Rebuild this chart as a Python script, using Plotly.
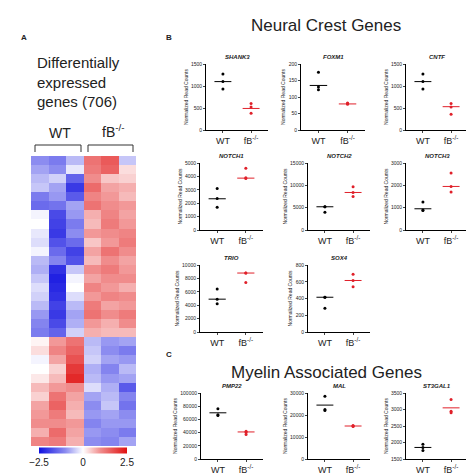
import plotly.graph_objects as go

# heatmap: rows = genes (top to bottom), cols = WT1..3, fB1..3
heat_cols = ["WT1", "WT2", "WT3", "fB1", "fB2", "fB3"]
heat_vals = [
    [-1.0, -1.2, -0.6, 1.3, 1.6, -0.5],
    [-0.8, -1.0, -0.2, 1.2, 1.5, 0.3],
    [-0.6, -0.4, -1.5, 1.0, 0.5, 0.4],
    [-0.5, -0.8, -2.0, 1.4, 0.8, 0.7],
    [-1.2, -0.9, -1.6, 1.1, 0.9, 0.6],
    [-1.4, -1.3, -0.8, 1.3, 1.0, 0.9],
    [-0.1, -1.8, -0.9, 0.7, 1.1, 0.8],
    [0.0, -1.9, -1.2, 0.6, 1.2, 0.9],
    [-0.2, -2.0, -1.0, 0.9, 1.0, 1.1],
    [-0.3, -1.7, -1.4, 0.5, 0.9, 1.2],
    [-0.1, -1.4, -1.9, 0.8, 1.3, 1.0],
    [-0.6, -1.1, -1.7, 0.6, 1.0, 0.8],
    [-0.7, -2.1, -0.5, 1.0, 1.2, 0.9],
    [-0.5, -2.3, -0.1, 0.8, 1.0, 1.0],
    [-0.3, -2.2, 0.0, 1.1, 0.9, 0.7],
    [-0.4, -2.1, -0.3, 0.9, 1.1, 1.0],
    [-0.6, -1.9, -0.6, 1.2, 0.8, 0.9],
    [-0.9, -2.0, -0.8, 1.3, 1.0, 1.2],
    [-1.1, -1.8, -0.7, 0.9, 0.7, 1.0],
    [-1.2, -1.5, -0.4, 0.7, 0.6, 0.6],
    [0.1, 0.9, 1.3, -0.6, -0.9, -0.8],
    [0.3, 1.1, 1.5, -0.5, -1.0, -1.2],
    [-0.1, 0.8, 1.7, -0.4, -0.8, -0.9],
    [0.0, 0.4, 2.0, -0.7, -1.1, -0.6],
    [0.2, 0.6, 2.2, -0.6, -0.9, -0.8],
    [0.6, 0.9, 1.0, -0.3, -0.7, -1.6],
    [0.4, 1.3, 0.8, -0.8, -0.6, -1.1],
    [0.8, 1.5, 0.7, -1.0, -0.5, -1.3],
    [0.9, 1.2, 0.6, -0.9, -0.8, -1.0],
    [1.0, 1.0, 0.9, -1.1, -0.9, -0.9],
    [0.7, 1.4, 0.8, -0.9, -1.0, -1.2],
    [1.1, 1.2, 0.7, -1.0, -1.1, -0.8],
]

# dot plots
genes = ["SHANK3", "FOXM1", "CNTF", "NOTCH1", "NOTCH2", "NOTCH3",
         "TRIO", "SOX4", "PMP22", "MAL", "ST3GAL1"]
wt_pts = [[1270, 1100, 930], [175, 130, 122], [1270, 1100, 930],
          [3100, 2350, 1700], [5200, 5200, 4000], [1250, 900, 870],
          [6400, 4900, 4200], [415, 415, 285], [76000, 66000, 67000],
          [28500, 22000, 22500], [1950, 1850, 1760]]
fb_pts = [[600, 520, 380], [80, 82, 78], [600, 520, 360],
          [4600, 3850, 3900], [9700, 8400, 7500], [2550, 1950, 1700],
          [8800, 8800, 7400], [690, 615, 540], [42000, 40000, 37000],
          [15000, 15200, 14800], [3300, 2950, 2900]]
wt_line = [1100, 135, 1100, 2330, 5200, 950, 4900, 415, 70000, 24500, 1850]
fb_line = [490, 79, 530, 3870, 8400, 1950, 8800, 615, 41000, 15000, 3050]
y_min = [0, 0, 0, 0, 0, 0, 0, 0, 0, 0, 1500]
y_max = [1500, 200, 1500, 5000, 15000, 3000, 10000, 800, 100000, 30000, 3500]
y_dtick = [500, 50, 500, 1000, 5000, 1000, 2000, 200, 20000, 10000, 500]

# pixel boxes (left, right, top, bottom)
boxes = [(198, 260, 60, 126), (293, 357, 60, 126), (398, 460, 60, 126),
         (192, 255, 159, 226), (300, 362, 159, 226), (398, 460, 159, 226),
         (192, 255, 261, 328), (300, 362, 261, 328),
         (193, 255, 389, 455), (300, 362, 389, 455), (398, 460, 389, 455)]

W = 474
TOP = 4
H = W - TOP
def fx(p):
    return p / W
def fy(p):
    return 1 - (p - TOP) / H

fig = go.Figure()
layout = {}

fig.add_trace(go.Heatmap(
    z=heat_vals, x=heat_cols, xgap=0, ygap=0,
    zmin=-2.5, zmax=2.5,
    colorscale=[[0, "#1010e0"], [0.3, "#8c8cf0"], [0.5, "#ffffff"],
                [0.7, "#f08c8c"], [1, "#e01010"]],
    colorbar=dict(orientation="h", x=fx(75), xanchor="center",
                  y=fy(452), yanchor="middle", len=108 / W,
                  thickness=6, tickvals=[-2.5, 0, 2.5], ticks="",
                  tickfont=dict(size=10, color="#222"), outlinewidth=0),
    xaxis="x", yaxis="y"))
layout["xaxis"] = dict(domain=[fx(23), fx(128)], visible=False)
layout["yaxis"] = dict(domain=[fy(442), fy(152)], visible=False,
                       autorange="reversed")

ann = []
for i, g in enumerate(genes):
    n = i + 2
    xa, ya = f"x{n}", f"y{n}"
    l, r, t, b = boxes[i]
    fig.add_trace(go.Scatter(x=[0] * 3, y=wt_pts[i], mode="markers",
                             marker=dict(color="black", size=3),
                             xaxis=xa, yaxis=ya, cliponaxis=False))
    fig.add_trace(go.Scatter(x=[1] * 3, y=fb_pts[i], mode="markers",
                             marker=dict(color="#e0202a", size=3),
                             xaxis=xa, yaxis=ya, cliponaxis=False))
    fig.add_trace(go.Scatter(x=[-0.3, 0.3], y=[wt_line[i]] * 2, mode="lines",
                             line=dict(color="black", width=1),
                             xaxis=xa, yaxis=ya))
    fig.add_trace(go.Scatter(x=[0.7, 1.3], y=[fb_line[i]] * 2, mode="lines",
                             line=dict(color="#e0202a", width=1),
                             xaxis=xa, yaxis=ya))
    layout[f"xaxis{n}"] = dict(
        domain=[fx(l), fx(r)], anchor=ya, range=[-0.6, 1.6],
        tickvals=[0, 1], ticktext=["WT", "fB<sup>-/-</sup>"],
        showline=True, linecolor="black", linewidth=1, ticks="outside",
        ticklen=2, tickfont=dict(size=9, color="#222"), showgrid=False,
        zeroline=False, automargin=False)
    layout[f"yaxis{n}"] = dict(
        domain=[fy(b), fy(t)], anchor=xa,
        range=[y_min[i], y_max[i]], dtick=y_dtick[i], tick0=y_min[i],
        tickformat="d", automargin=False,
        showline=True, linecolor="black", linewidth=1, ticks="outside",
        ticklen=2, tickfont=dict(size=5, color="#222"), showgrid=False,
        zeroline=False,
        title=dict(text="Normalized Read Counts", font=dict(size=5, color="#222"),
                   standoff=2))
    ann.append(dict(text=f"<b><i>{g}</i></b>", x=fx((l + r) / 2),
                    y=fy(t - 7), font=dict(size=6)))

ann += [
    dict(text="Neural Crest Genes", x=fx(318), y=fy(22), font=dict(size=17)),
    dict(text="Myelin Associated Genes", x=fx(318), y=fy(368), font=dict(size=17)),
    dict(text="<b>A</b>", x=fx(16), y=fy(34), font=dict(size=8)),
    dict(text="<b>B</b>", x=fx(161), y=fy(34), font=dict(size=8)),
    dict(text="<b>C</b>", x=fx(161), y=fy(350), font=dict(size=8)),
    dict(text="Differentially<br>expressed<br>genes (706)", x=fx(27),
         y=fy(78), xanchor="left", align="left", font=dict(size=15)),
    dict(text="WT", x=fx(52), y=fy(129), font=dict(size=14)),
    dict(text="fB<sup>-/-</sup>", x=fx(105), y=fy(127), font=dict(size=14)),
]
for a in ann:
    a["xref"] = "paper"
    a["yref"] = "paper"
    a["showarrow"] = False
    a.setdefault("xanchor", "center")
    a["yanchor"] = "middle"
    a["font"]["color"] = "#222"

shapes = []
for x0, x1 in [(27, 73), (80, 125)]:
    shapes.append(dict(type="path", xref="paper", yref="paper",
                       path=f"M {fx(x0)} {fy(148)} L {fx(x0)} {fy(141)} L {fx(x1)} {fy(141)} L {fx(x1)} {fy(148)}",
                       line=dict(color="#333", width=1)))

fig.update_layout(width=W, height=H,
                  margin=dict(l=0, r=0, t=0, b=0, autoexpand=False),
                  plot_bgcolor="white", paper_bgcolor="white",
                  showlegend=False, font=dict(family="Liberation Sans, Arial"),
                  annotations=ann, shapes=shapes, **layout)
fig.write_html("out.html")
